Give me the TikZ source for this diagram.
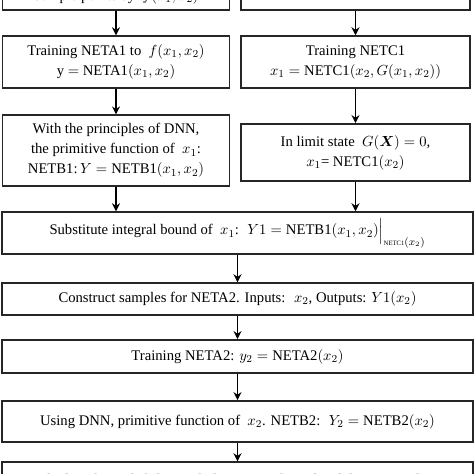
\documentclass[tikz,border=0pt]{standalone}
\usepackage{amsmath,amssymb}
\usepackage{fontspec}
\setmainfont{Liberation Serif}
\usetikzlibrary{shapes,arrows.meta,positioning}

\begin{document}
\begin{tikzpicture}[
    x=0.75pt, y=-0.75pt,
    box/.style={rectangle, draw=black!85, line width=1.1pt, fill=white, inner sep=2pt, align=center, font=\fontsize{11}{15}\selectfont},
    halfbox/.style={box, minimum width=170pt},
    rightbox/.style={box, minimum width=172pt},
    widebox/.style={box, minimum width=353.5pt},
    arrow/.style={-{Stealth[length=6pt,width=6pt]}, line width=1pt}
]
\useasboundingbox (0,0) rectangle (474,474);
\clip (0,0) rectangle (474,474);

% Top row (cut by the frame)
\node[halfbox, minimum height=19.5pt] (points) at (116,-3) {Sample points by \ $f(x_1,x_2)$};
\node[rightbox, minimum height=19.5pt] (limitfun) at (355.5,-3) {};

% NETA1 and NETC1
\node[halfbox, minimum height=39pt] (netaone) at (116,62) {Training NETA1 to \ $f(x_1,x_2)$\\ y $=$ NETA1$(x_1,x_2)$};
\node[rightbox, minimum height=39pt] (netcone) at (355.5,62) {Training NETC1\\ $x_1=\text{NETC1}(x_2,G(x_1,x_2))$};

% Primitive function and limit state
\node[halfbox, minimum height=53pt] (netbone) at (116,150.5) {With the principles of DNN,\\ the primitive function of \ $x_1$:\\ NETB1:\,$Y=\text{NETB1}(x_1,x_2)$};
\node[rightbox, minimum height=43pt] (limit) at (355.5,152.5) {In limit state \ $G(\boldsymbol{X})=0$,\\ $x_1$= NETC1$(x_2)$};

% Integral bound
\node[widebox, minimum height=31.5pt] (bound) at (237.5,233) {Substitute integral bound of \ $x_1$: \ $Y1=\text{NETB1}(x_1,x_2)\Big|_{\text{\tiny NETC1}(x_2)}$};

% NETA2 samples and training
\node[widebox, minimum height=24pt] (samples) at (237.5,299) {Construct samples for NETA2. Inputs: \ $x_2$, Outputs: $Y1(x_2)$};
\node[widebox, minimum height=25pt] (netatwo) at (237.5,356.5) {Training NETA2: $y_2=\text{NETA2}(x_2)$};

% NETB2
\node[widebox, minimum height=31pt] (netbtwo) at (237.5,421.5) {Using DNN, primitive function of \ $x_2$. NETB2: \ $Y_2=\text{NETB2}(x_2)$};

% Last step (cut by the frame)
\node[widebox, minimum height=27.75pt] (result) at (237.5,480.5) {Calculate the probability with the NETB2 bound and the NETA1 limit};

% Arrows
\draw[arrow] (points) -- (netaone);
\draw[arrow] (limitfun) -- (netcone);
\draw[arrow] (netaone) -- (netbone);
\draw[arrow] (netcone) -- (limit);
\draw[arrow] (netbone) -- (netbone |- bound.north);
\draw[arrow] (limit) -- (limit |- bound.north);
\draw[arrow] (bound) -- (samples);
\draw[arrow] (samples) -- (netatwo);
\draw[arrow] (netatwo) -- (netbtwo);
\draw[arrow] (netbtwo) -- (result);

\end{tikzpicture}
\end{document}
